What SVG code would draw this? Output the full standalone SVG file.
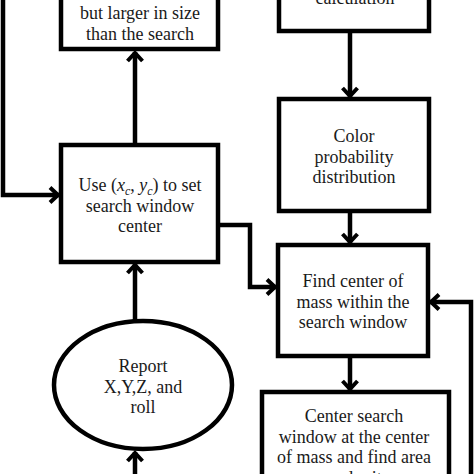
<svg xmlns="http://www.w3.org/2000/svg" width="474" height="474" viewBox="0 0 474 474">
<style>
.box{fill:#fff;stroke:#000;stroke-width:4.5}
.t{font-family:"Liberation Serif","Times New Roman",serif;font-size:18px;fill:#1a1a1a;text-anchor:middle}
.c{fill:none;stroke:#000;stroke-width:4.5}
</style>
<defs>
<marker id="ah" markerUnits="userSpaceOnUse" markerWidth="20" markerHeight="20" viewBox="-12 -10 14 20" refX="0" refY="0" orient="auto">
<path d="M-9,-7.5 L-1,0 L-9,7.5" fill="none" stroke="#000" stroke-width="4"/>
</marker>
</defs>
<rect width="474" height="474" fill="#fff"/>
<g id="connectors">
<path class="c" d="M3,0 V195 H59" marker-end="url(#ah)"/>
<path class="c" d="M135,145 V52" marker-end="url(#ah)"/>
<path class="c" d="M350,31 V97" marker-end="url(#ah)"/>
<path class="c" d="M350,211 V243" marker-end="url(#ah)"/>
<path class="c" d="M350,356 V390" marker-end="url(#ah)"/>
<path class="c" d="M218,225 H250 V287 H276" marker-end="url(#ah)"/>
<path class="c" d="M471,474 V302 H430" marker-end="url(#ah)"/>
<path class="c" d="M135,320 V264" marker-end="url(#ah)"/>
<path class="c" d="M135,474 V452" marker-end="url(#ah)"/>
</g>
<g id="nodeA">
<rect class="box" x="61" y="-20" width="157" height="69"/>
<text class="t" x="140" y="19">but larger in size</text>
<text class="t" x="140" y="40">than the search</text>
</g>
<g id="nodeB">
<rect class="box" x="61" y="145" width="157" height="117"/>
<text class="t" x="140" y="191">Use (<tspan font-style="italic">x</tspan><tspan font-style="italic" font-size="12" dy="4">c</tspan><tspan dy="-4">, </tspan><tspan font-style="italic">y</tspan><tspan font-style="italic" font-size="12" dy="4">c</tspan><tspan dy="-4">) to set</tspan></text>
<text class="t" x="140" y="212">search window</text>
<text class="t" x="140" y="232">center</text>
</g>
<g id="nodeC">
<rect class="box" x="279" y="-20" width="150" height="51"/>
<text class="t" x="355" y="4">calculation</text>
</g>
<g id="nodeD">
<rect class="box" x="279" y="99" width="150" height="112"/>
<text class="t" x="354" y="142">Color</text>
<text class="t" x="354" y="163">probability</text>
<text class="t" x="354" y="183">distribution</text>
</g>
<g id="nodeE">
<rect class="box" x="278" y="245" width="150" height="111"/>
<text class="t" x="353" y="287">Find center of</text>
<text class="t" x="353" y="308">mass within the</text>
<text class="t" x="353" y="328">search window</text>
</g>
<g id="nodeF">
<rect class="box" x="262" y="392" width="187" height="100"/>
<text class="t" x="354" y="422">Center search</text>
<text class="t" x="354" y="443">window at the center</text>
<text class="t" x="354" y="463">of mass and find area</text>
<text class="t" x="354" y="484">under it</text>
</g>
<g id="nodeG">
<ellipse class="box" cx="143" cy="385" rx="89" ry="64"/>
<text class="t" x="143" y="372">Report</text>
<text class="t" x="143" y="393">X,Y,Z, and</text>
<text class="t" x="143" y="413">roll</text>
</g>
</svg>
